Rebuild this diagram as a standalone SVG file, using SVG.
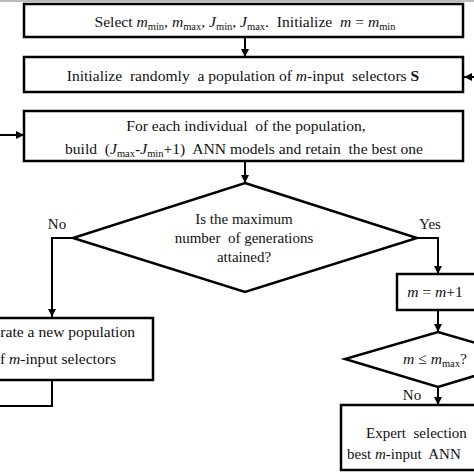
<svg xmlns="http://www.w3.org/2000/svg" width="474" height="474" viewBox="0 0 474 474">
<defs>
<marker id="ah" viewBox="0 0 10 10" refX="10" refY="5" markerWidth="4" markerHeight="4" orient="auto" markerUnits="strokeWidth">
<path d="M0,0 L10,5 L0,10 z" fill="#000"/>
</marker>
<style>
.box{fill:#fff;stroke:#000;stroke-width:2.5}
.ln{fill:none;stroke:#000;stroke-width:2}
.t{font-family:"Liberation Serif","Times New Roman",serif;font-size:15px;fill:#111;white-space:pre}
.b{font-size:15.6px}
.c{text-anchor:middle}
.i{font-style:italic}
.s{font-size:10.5px}
</style>
</defs>
<rect width="474" height="474" fill="#fff"/>
<rect x="0" y="0" width="474" height="2" fill="#bbb"/>
<g id="connectors">
<line class="ln" x1="245" y1="37" x2="245" y2="57" marker-end="url(#ah)"/>
<line class="ln" x1="474" y1="77" x2="464" y2="77" marker-end="url(#ah)"/>
<line class="ln" x1="0" y1="135" x2="24" y2="135" marker-end="url(#ah)"/>
<line class="ln" x1="245" y1="161" x2="245" y2="183" marker-end="url(#ah)"/>
<polyline class="ln" points="73,238 52,238 52,317" marker-end="url(#ah)"/>
<polyline class="ln" points="417,238 438,238 438,274" marker-end="url(#ah)"/>
<line class="ln" x1="438" y1="310" x2="438" y2="332" marker-end="url(#ah)"/>
<line class="ln" x1="438" y1="387" x2="438" y2="405" marker-end="url(#ah)"/>
<polyline class="ln" points="52,380 52,406 0,406"/>
</g>
<g id="n1">
<rect class="box" x="24" y="4" width="439" height="33"/>
<text class="t b c" x="245" y="27">Select <tspan class="i">m</tspan><tspan class="s" dy="3">min</tspan><tspan dy="-3">, </tspan><tspan class="i">m</tspan><tspan class="s" dy="3">max</tspan><tspan dy="-3">, </tspan><tspan class="i">J</tspan><tspan class="s" dy="3">min</tspan><tspan dy="-3">, </tspan><tspan class="i">J</tspan><tspan class="s" dy="3">max</tspan><tspan dy="-3">.  Initialize  </tspan><tspan class="i">m</tspan> = <tspan class="i">m</tspan><tspan class="s" dy="3">min</tspan></text>
</g>
<g id="n2">
<rect class="box" x="24" y="57" width="439" height="35"/>
<text class="t b c" x="243" y="81">Initialize  randomly  a population of <tspan class="i">m</tspan>-input  selectors <tspan font-weight="bold">S</tspan></text>
</g>
<g id="n3">
<rect class="box" x="24" y="111" width="439" height="50"/>
<text class="t b c" x="246" y="131">For each individual  of the population,</text>
<text class="t b c" x="244" y="154">build  (<tspan class="i">J</tspan><tspan class="s" dy="3">max</tspan><tspan dy="-3">-</tspan><tspan class="i">J</tspan><tspan class="s" dy="3">min</tspan><tspan dy="-3">+1)  ANN models and retain  the best one</tspan></text>
</g>
<g id="d1">
<polygon class="box" points="245,183 417,238 245,292 73,238"/>
<text class="t c" x="244" y="224">Is the maximum</text>
<text class="t c" x="244" y="243">number  of generations</text>
<text class="t c" x="244" y="262">attained?</text>
</g>
<text class="t c" x="57" y="229">No</text>
<text class="t c" x="430" y="229">Yes</text>
<g id="n4">
<rect class="box" x="-60" y="318" width="213" height="62"/>
<text class="t b" x="135" y="337" text-anchor="end">rate a new population</text>
<text class="t b" x="116" y="364" text-anchor="end">f <tspan class="i">m</tspan>-input selectors</text>
</g>
<g id="n5">
<rect class="box" x="397" y="274" width="100" height="36"/>
<text class="t b c" x="435" y="297"><tspan class="i">m</tspan> = <tspan class="i">m</tspan>+1</text>
</g>
<g id="d2">
<polygon class="box" points="438,332 531,359 438,387 345,359"/>
<text class="t b" x="403" y="364"><tspan class="i">m</tspan> ≤ <tspan class="i">m</tspan><tspan class="s" dy="3">max</tspan><tspan dy="-3">?</tspan></text>
</g>
<text class="t c" x="412" y="400">No</text>
<g id="n6">
<rect class="box" x="341" y="405" width="200" height="65"/>
<text class="t" x="366" y="438">Expert  selection</text>
<text class="t" x="347" y="459">best <tspan class="i">m</tspan>-input  ANN</text>
</g>
</svg>
